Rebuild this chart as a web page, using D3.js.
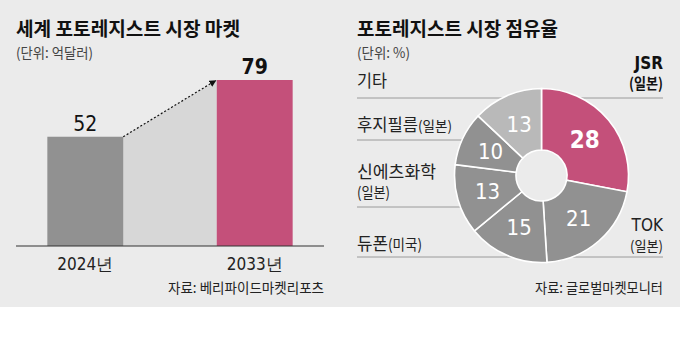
<!DOCTYPE html>
<html>
<head>
<meta charset="utf-8">
<script src="https://cdn.jsdelivr.net/npm/d3@7"></script>
<style>
  html, body { margin: 0; padding: 0; background: #ffffff; }
  svg { display: block; }
</style>
</head>
<body>
<svg id="chart" width="680" height="351"></svg>
<script>
// ---- data ----
const barCategories = ["2024년", "2033년"];
const barValues = [52, 79];
const shareCompanies = ["JSR", "TOK", "듀폰", "신에츠화학", "후지필름", "기타"];
const shareCountries = ["(일본)", "(일본)", "(미국)", "(일본)", "(일본)", ""];
const shareValues = [28, 21, 15, 13, 10, 13];

// ---- styles ----
const BG = "#ebebeb";
const PINK = "#c4507a";
const DARK = "#919191";
const LIGHT_SLICE = "#b9b9b9";
const AREA = "#d7d7d7";
const KR = "'Noto Sans CJK KR', 'Noto Sans', sans-serif";
const NUM = "'Liberation Sans Narrow', 'DejaVu Sans Condensed', 'Liberation Sans', sans-serif";

const svg = d3.select("#chart");
svg.append("rect").attr("x", 0).attr("y", 0).attr("width", 680).attr("height", 307).attr("fill", BG);

function txt(g, x, y, s, o = {}) {
  const t = g.append("text").attr("x", x).attr("y", y).text(s)
    .attr("font-family", o.family || KR)
    .attr("font-size", o.size || 14)
    .attr("font-weight", o.weight || 400)
    .attr("fill", o.fill || "#222")
    .attr("text-anchor", o.anchor || "start");
  if (o.len) t.attr("textLength", o.len).attr("lengthAdjust", "spacingAndGlyphs");
  return t;
}

// ================= LEFT: bar chart =================
const left = svg.append("g");
txt(left, 16, 36, "세계 포토레지스트 시장 마켓", { size: 19, weight: 700, fill: "#111", len: 224 });
txt(left, 16, 58, "(단위: 억달러)", { size: 14, fill: "#444", len: 77 });

const x = d3.scaleBand().domain(barCategories).range([16, 324]).paddingInner(0.552).paddingOuter(0.185);
const y = d3.scaleLinear().domain([0, 79]).range([246, 80]);

// connecting area
const x0 = x(barCategories[0]) + x.bandwidth();
const x1 = x(barCategories[1]);
left.append("path")
  .attr("d", d3.area().x(d => d.x).y0(y(0)).y1(d => y(d.v))([{ x: x0, v: barValues[0] }, { x: x1, v: barValues[1] }]))
  .attr("fill", AREA);

left.selectAll("rect.bar").data(barValues).join("rect")
  .attr("class", "bar")
  .attr("x", (d, i) => x(barCategories[i]))
  .attr("y", d => y(d))
  .attr("width", x.bandwidth())
  .attr("height", d => y(0) - y(d))
  .attr("fill", (d, i) => i === 1 ? PINK : DARK);

// dotted arrow
const defs = svg.append("defs");
defs.append("marker").attr("id", "arrow").attr("viewBox", "0 0 10 10")
  .attr("refX", 9).attr("refY", 5).attr("markerWidth", 7).attr("markerHeight", 7)
  .attr("markerUnits", "userSpaceOnUse").attr("orient", "auto")
  .append("path").attr("d", "M0,0 L10,5 L0,10 Z").attr("fill", "#111");
left.append("line")
  .attr("x1", x0).attr("y1", y(barValues[0]))
  .attr("x2", x1 - 1).attr("y2", y(barValues[1]) + 0.5)
  .attr("stroke", "#111").attr("stroke-width", 1.2).attr("stroke-dasharray", "2,2")
  .attr("marker-end", "url(#arrow)");

// value labels
left.selectAll("text.val").data(barValues).join("text")
  .attr("class", "val")
  .attr("x", (d, i) => x(barCategories[i]) + x.bandwidth() / 2)
  .attr("y", d => y(d) - 6)
  .attr("text-anchor", "middle")
  .attr("font-family", NUM).attr("font-size", 21)
  .attr("font-weight", (d, i) => i === 1 ? 700 : 400)
  .attr("fill", "#111")
  .text(d => d);

// axis
const xAxis = left.append("g").attr("transform", `translate(0,${y(0)})`)
  .call(d3.axisBottom(x).tickSize(0).tickPadding(8));
xAxis.select(".domain").attr("d", "M16,0H324").attr("stroke", "#333").attr("stroke-width", 1.2);
xAxis.selectAll(".tick text")
  .attr("font-family", NUM).attr("font-size", 17).attr("fill", "#222")
  .attr("dy", "0.95em");

txt(left, 324, 293, "자료: 베리파이드마켓리포츠", { size: 14, fill: "#222", anchor: "end", len: 156 });

// ================= RIGHT: donut chart =================
const right = svg.append("g");
txt(right, 357, 36, "포토레지스트 시장 점유율", { size: 19, weight: 700, fill: "#111", len: 201 });
txt(right, 357, 58, "(단위: %)", { size: 14, fill: "#444", len: 53 });

const cx = 541.5, cy = 175.5, rOuter = 87, rInner = 25.5;

// guide lines (behind the pie)
const lineColor = "#9a9a9a";
[[357, 663, 98], [357, cx, 140], [357, cx, 207], [357, 663, 257]].forEach(([a, b, yy]) => {
  right.append("line").attr("x1", a).attr("x2", b).attr("y1", yy).attr("y2", yy)
    .attr("stroke", lineColor).attr("stroke-width", 1);
});

const pie = d3.pie().sort(null).value(d => d);
const arcs = pie(shareValues);
const arc = d3.arc().innerRadius(rInner).outerRadius(rOuter);
const labelArc = d3.arc().innerRadius(rInner + 3).outerRadius(rOuter - 3);
const pg = right.append("g").attr("transform", `translate(${cx},${cy})`);
pg.selectAll("path").data(arcs).join("path")
  .attr("d", arc)
  .attr("fill", (d, i) => i === 0 ? PINK : (i === arcs.length - 1 ? LIGHT_SLICE : DARK))
  .attr("stroke", "#ffffff").attr("stroke-width", 1.6);
pg.selectAll("text").data(arcs).join("text")
  .attr("transform", d => `translate(${labelArc.centroid(d)})`)
  .attr("text-anchor", "middle").attr("dy", "0.36em")
  .attr("font-family", NUM)
  .attr("font-size", (d, i) => i === 0 ? 24 : 22)
  .attr("font-weight", (d, i) => i === 0 ? 700 : 400)
  .attr("fill", "#ffffff")
  .text(d => d.data);

// company labels
// JSR (right, bold)
txt(right, 663, 69, shareCompanies[0], { size: 17, weight: 700, family: NUM, anchor: "end", fill: "#111" });
txt(right, 663, 89, shareCountries[0], { size: 15, weight: 700, anchor: "end", fill: "#111", len: 34 });
// TOK (right)
txt(right, 663, 231, shareCompanies[1], { size: 17, family: NUM, anchor: "end", fill: "#222" });
txt(right, 663, 251, shareCountries[1], { size: 14, anchor: "end", fill: "#222", len: 33 });
// 기타
txt(right, 357, 87, shareCompanies[5], { size: 17, fill: "#222", len: 30 });
// 후지필름(일본)
txt(right, 357, 131, shareCompanies[4], { size: 17, fill: "#222", len: 61 });
txt(right, 418, 131, shareCountries[4], { size: 14, fill: "#222", len: 34 });
// 신에츠화학 (일본)
txt(right, 357, 178, shareCompanies[3], { size: 17, fill: "#222", len: 79 });
txt(right, 357, 198, shareCountries[3], { size: 15, fill: "#222", len: 33 });
// 듀폰(미국)
txt(right, 357, 250, shareCompanies[2], { size: 17, fill: "#222", len: 31 });
txt(right, 388, 250, shareCountries[2], { size: 15, fill: "#222", len: 34 });

txt(right, 663, 293, "자료: 글로벌마켓모니터", { size: 14, fill: "#222", anchor: "end", len: 128 });
</script>
</body>
</html>
